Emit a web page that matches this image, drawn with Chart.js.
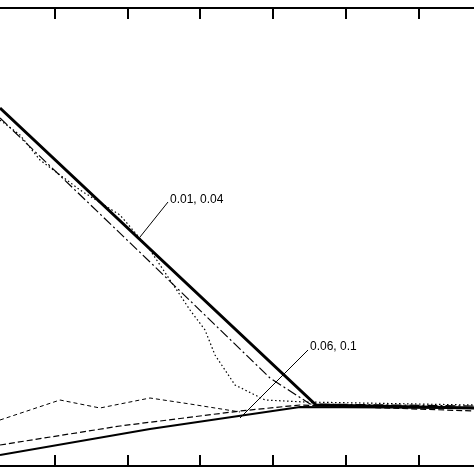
<!DOCTYPE html>
<html><head><meta charset="utf-8">
<script src="https://cdn.jsdelivr.net/npm/chart.js@4"></script>
<style>html,body{margin:0;background:#fff}#c{width:474px;height:474px}</style>
</head><body><div id="c"><canvas id="cv"></canvas></div>
<script>
// 座標はグラフ枠の単位 (x: 0-474, y: 0-474 下から)
const xTicks = [55, 128, 200, 273, 346, 419];
const frameTop = 466, frameBottom = 8;
const upperSolid = [[0, 366], [316, 69], [474, 66]];
const upperDashDot = [[0, 356], [150, 212], [270, 96], [310, 70], [474, 68]];
const innerDotted = [[0, 354], [20, 339], [40, 314], [80, 284], [120, 259], [150, 224], [170, 194], [190, 164], [205, 144], [215, 119], [235, 89], [265, 74], [305, 72], [474, 69]];
const lowerSolid = [[0, 19], [150, 45], [300, 67], [474, 66]];
const lowerDashed = [[0, 29], [120, 48], [240, 63], [300, 69], [474, 63]];
const innerDashed = [[0, 54], [30, 64], [60, 74], [100, 66], [150, 76], [190, 70], [240, 62]];
const leader1 = [[140, 237], [168, 272]];
const leader2 = [[240, 56], [308, 124]];
const labels = [{text: '0.01, 0.04', x: 170, y: 274}, {text: '0.06, 0.1', x: 310, y: 127}];

const pts = a => a.map(p => ({x: p[0], y: p[1]}));
const ds = (d, w, dash) => ({data: pts(d), showLine: true, borderColor: '#000', borderWidth: w, borderDash: dash, pointRadius: 0, tension: 0, fill: false});

const framePlugin = {
  id: 'frame',
  afterDraw(chart) {
    const {ctx, scales: {x, y}} = chart;
    const top = y.getPixelForValue(frameTop), bot = y.getPixelForValue(frameBottom);
    ctx.save();
    ctx.strokeStyle = '#000';
    ctx.lineWidth = 2;
    ctx.beginPath();
    ctx.moveTo(0, top); ctx.lineTo(474, top);
    ctx.moveTo(0, bot); ctx.lineTo(474, bot);
    xTicks.forEach(t => {
      const px = x.getPixelForValue(t);
      ctx.moveTo(px, top); ctx.lineTo(px, top + 11);
      ctx.moveTo(px, bot); ctx.lineTo(px, bot - 11);
    });
    ctx.stroke();
    ctx.fillStyle = '#000';
    ctx.font = '12px "Liberation Sans", Arial, sans-serif';
    ctx.textBaseline = 'middle';
    labels.forEach(l => ctx.fillText(l.text, x.getPixelForValue(l.x), y.getPixelForValue(l.y)));
    ctx.restore();
  }
};

new Chart(document.getElementById('cv'), {
  type: 'scatter',
  data: {datasets: [
    ds(upperSolid, 3, []),
    ds(upperDashDot, 1.2, [10, 3, 2, 3]),
    ds(innerDotted, 1.2, [1.5, 2.5]),
    ds(lowerSolid, 2, []),
    ds(lowerDashed, 1.2, [6, 3]),
    ds(innerDashed, 1, [4, 3]),
    ds(leader1, 1, []),
    ds(leader2, 1, [])
  ]},
  options: {
    responsive: true, maintainAspectRatio: false, animation: false,
    layout: {padding: 0},
    plugins: {legend: {display: false}, tooltip: {enabled: false}},
    scales: {
      x: {type: 'linear', min: 0, max: 474, display: false},
      y: {type: 'linear', min: 0, max: 474, display: false}
    }
  },
  plugins: [framePlugin]
});
</script></body></html>
